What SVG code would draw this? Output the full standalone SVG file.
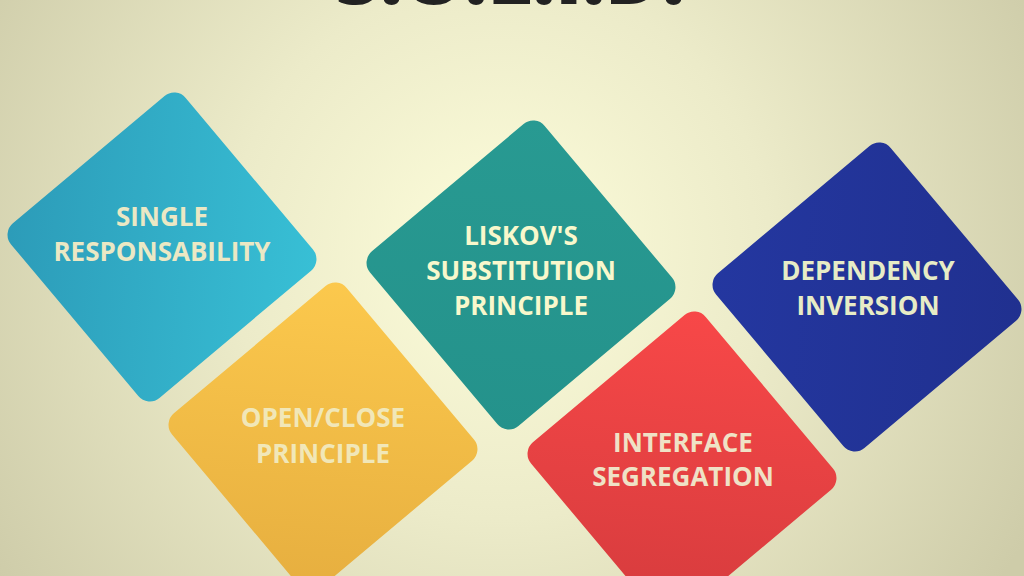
<svg xmlns="http://www.w3.org/2000/svg" width="1024" height="576" viewBox="0 0 1024 576">
  <defs>
    <radialGradient id="bg" gradientUnits="userSpaceOnUse" cx="500" cy="250" r="600">
      <stop offset="0" stop-color="#fdfdda"/>
      <stop offset="0.45" stop-color="#ecebc9"/>
      <stop offset="1" stop-color="#cecca9"/>
    </radialGradient>
    <linearGradient id="gBlue" x1="0" y1="1" x2="1" y2="0">
      <stop offset="0" stop-color="#2c9bb8"/>
      <stop offset="1" stop-color="#38c0d6"/>
    </linearGradient>
    <linearGradient id="gYellow" x1="0" y1="0" x2="1" y2="1">
      <stop offset="0" stop-color="#fcc94d"/>
      <stop offset="1" stop-color="#e6ae3f"/>
    </linearGradient>
    <linearGradient id="gTeal" x1="0" y1="0" x2="1" y2="1">
      <stop offset="0" stop-color="#289a92"/>
      <stop offset="1" stop-color="#24928b"/>
    </linearGradient>
    <linearGradient id="gRed" x1="0" y1="0" x2="1" y2="1">
      <stop offset="0" stop-color="#f84848"/>
      <stop offset="1" stop-color="#d53b3d"/>
    </linearGradient>
    <linearGradient id="gNavy" x1="0" y1="1" x2="1" y2="0">
      <stop offset="0" stop-color="#2437a0"/>
      <stop offset="1" stop-color="#20308f"/>
    </linearGradient>
    <rect id="tile" x="-114" y="-114" width="228" height="228" rx="15" ry="15"/>
  </defs>
  <style>
    .lbl { font-family: "Open Sans", "Liberation Sans", sans-serif; font-weight: 700; font-size: 26px; text-anchor: middle; }
    .title { font-family: "Open Sans", "Liberation Sans", sans-serif; font-weight: 800; font-size: 78px; text-anchor: middle; fill: #222222; }
  </style>
  <rect x="0" y="0" width="1024" height="576" fill="url(#bg)"/>
  <text class="title" x="510" y="4">S.O.L.I.D.</text>

  <g id="single-responsability">
    <use href="#tile" transform="translate(162,247) rotate(50)" fill="url(#gBlue)"/>
    <text class="lbl" fill="#ebe8c4" x="162" y="226">SINGLE</text>
    <text class="lbl" fill="#ebe8c4" x="162" y="261">RESPONSABILITY</text>
  </g>
  <g id="open-close">
    <use href="#tile" transform="translate(323,437) rotate(50)" fill="url(#gYellow)"/>
    <text class="lbl" fill="#f1e7b8" x="323" y="427">OPEN/CLOSE</text>
    <text class="lbl" fill="#f1e7b8" x="323" y="463">PRINCIPLE</text>
  </g>
  <g id="liskov">
    <use href="#tile" transform="translate(521,275) rotate(50)" fill="url(#gTeal)"/>
    <text class="lbl" fill="#f8f8cc" x="521" y="245">LISKOV'S</text>
    <text class="lbl" fill="#f8f8cc" x="521" y="280">SUBSTITUTION</text>
    <text class="lbl" fill="#f8f8cc" x="521" y="315">PRINCIPLE</text>
  </g>
  <g id="interface-segregation">
    <use href="#tile" transform="translate(682,466) rotate(50)" fill="url(#gRed)"/>
    <text class="lbl" fill="#efe2c6" x="683" y="452">INTERFACE</text>
    <text class="lbl" fill="#efe2c6" x="683" y="486">SEGREGATION</text>
  </g>
  <g id="dependency-inversion">
    <use href="#tile" transform="translate(867,297) rotate(50)" fill="url(#gNavy)"/>
    <text class="lbl" fill="#e7ecc6" x="868" y="280">DEPENDENCY</text>
    <text class="lbl" fill="#e7ecc6" x="868" y="315">INVERSION</text>
  </g>
</svg>
